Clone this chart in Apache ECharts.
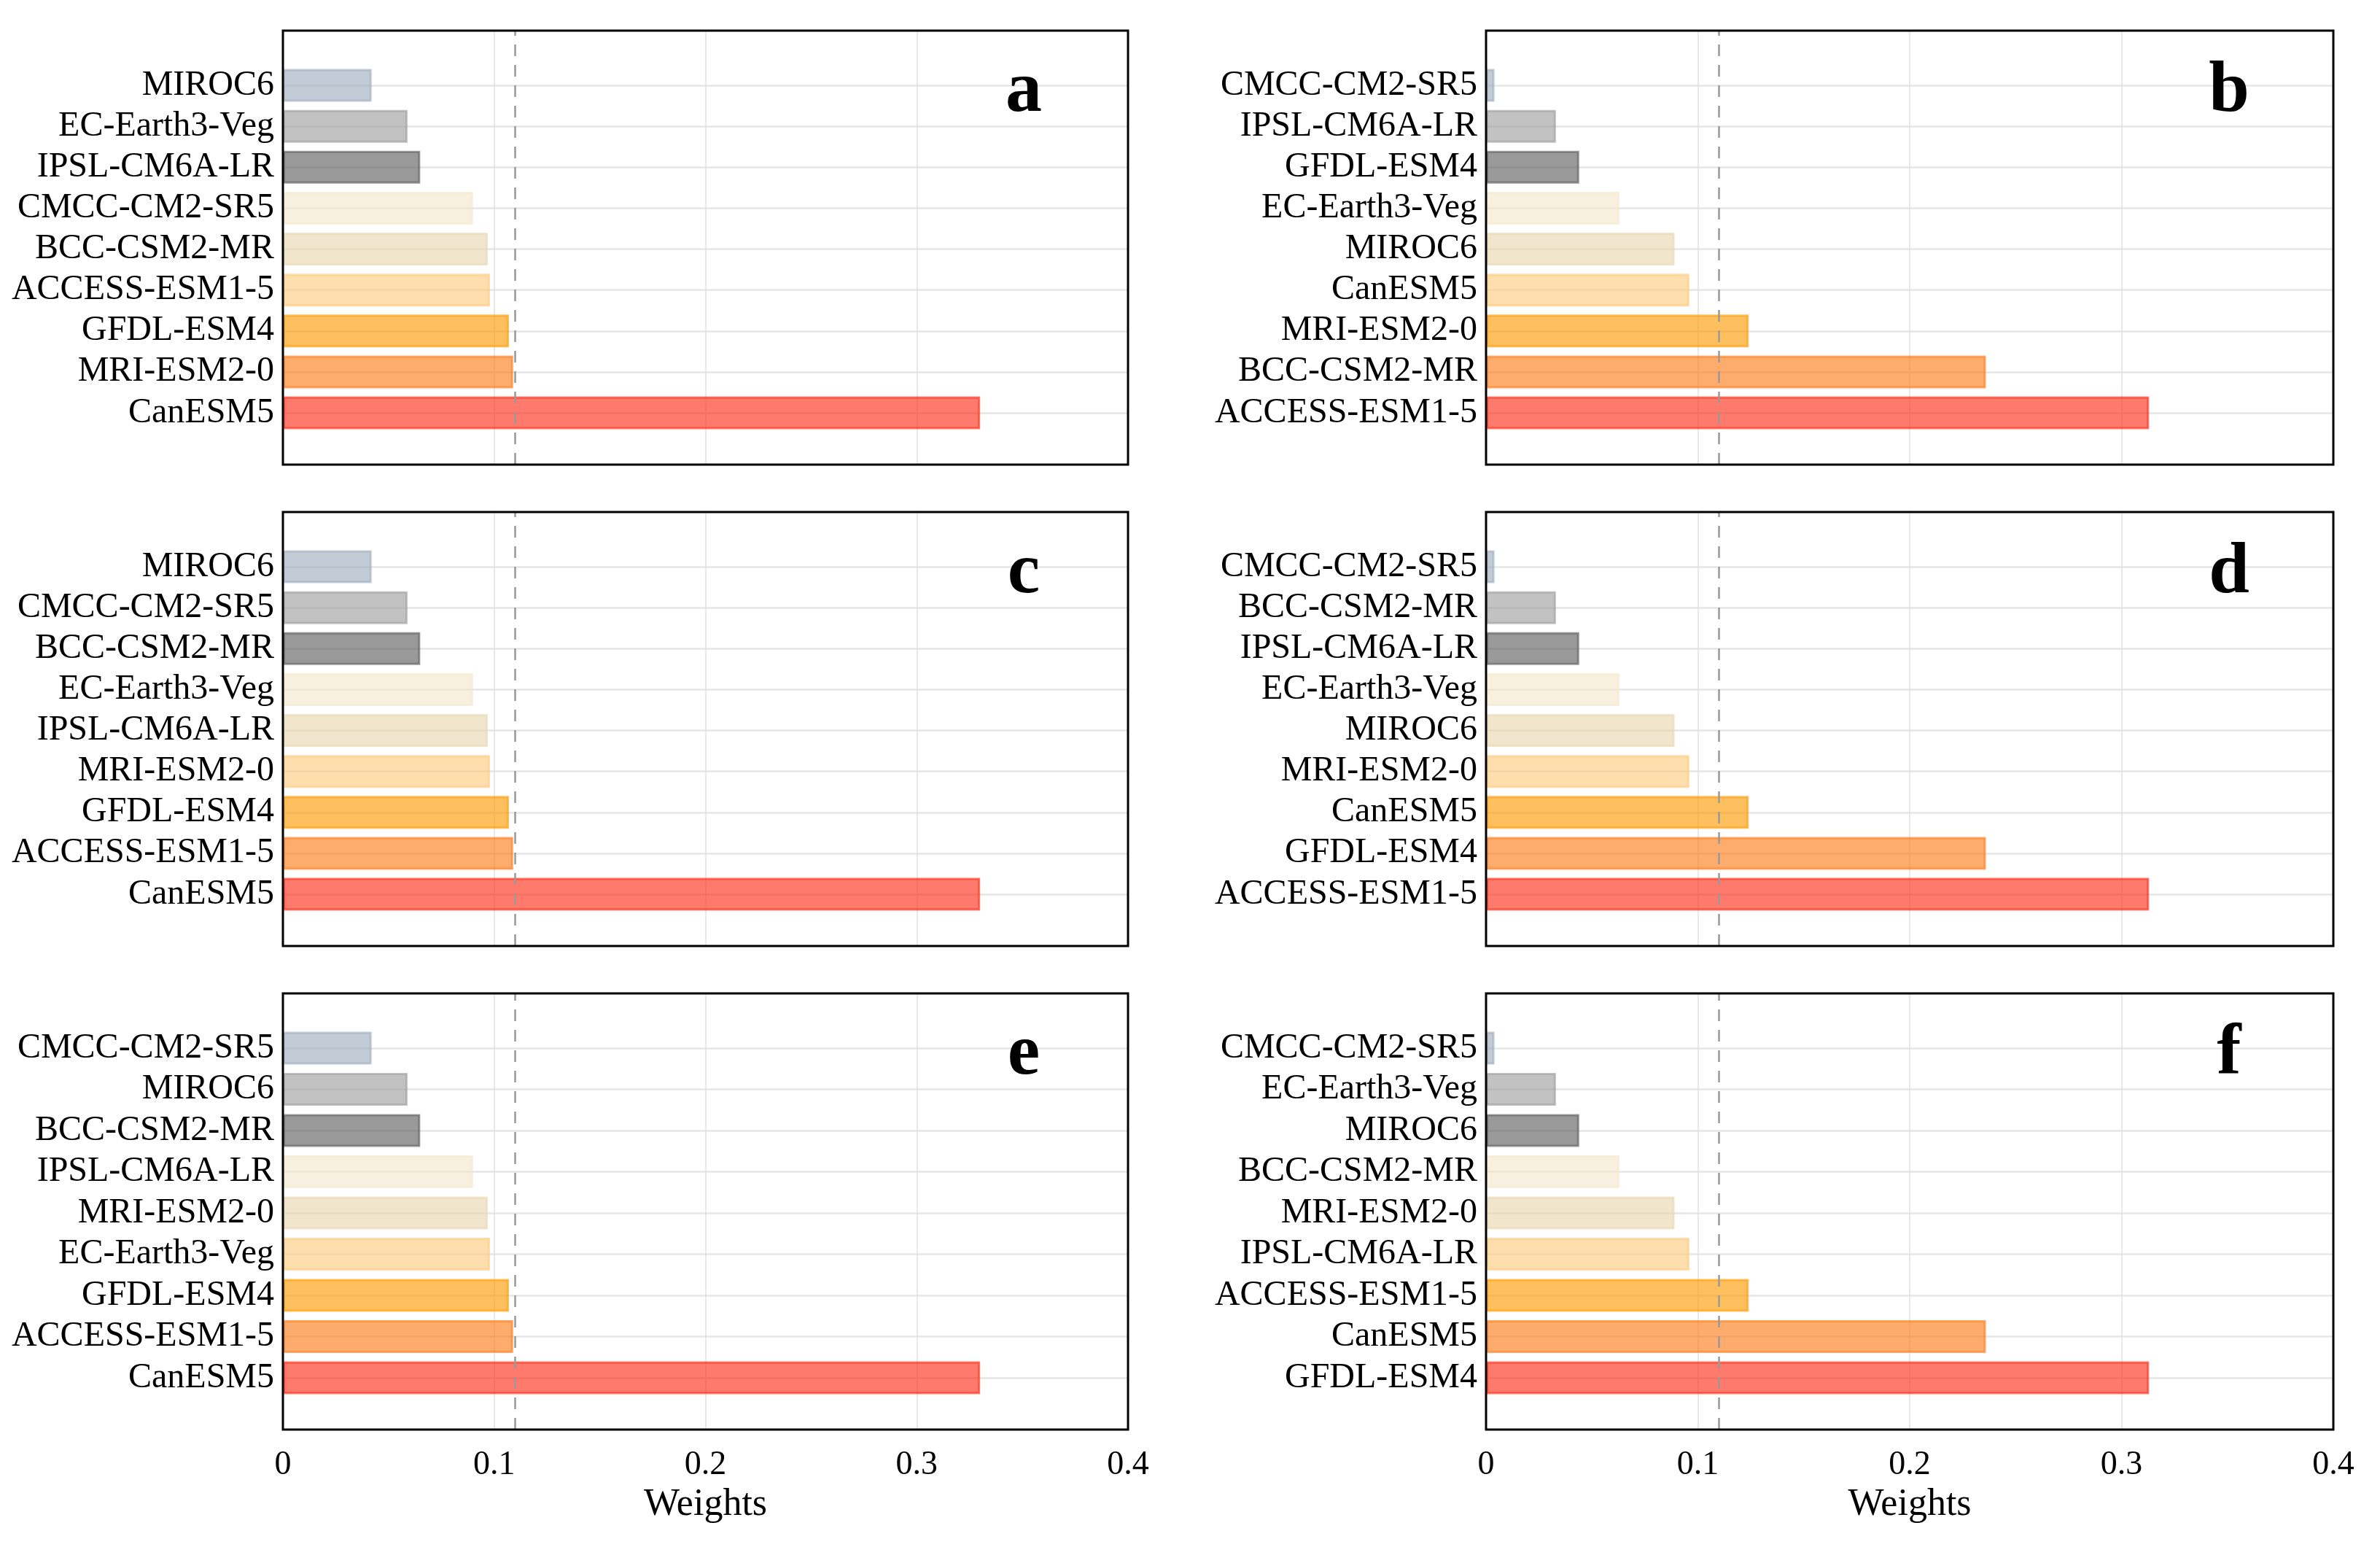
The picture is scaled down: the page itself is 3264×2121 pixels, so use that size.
<!DOCTYPE html>
<html>
<head>
<meta charset="utf-8">
<title>Model weights</title>
<script src="https://cdn.jsdelivr.net/npm/echarts@6.0.0/dist/echarts.min.js"></script>
<style>
  html, body { margin: 0; padding: 0; background: #fff; }
  #chart { width: 3264px; height: 2121px; }
</style>
</head>
<body>
<div id="chart"></div>
<script>
// model names, listed top to bottom as in each panel
var modelsA = ['MIROC6', 'EC-Earth3-Veg', 'IPSL-CM6A-LR', 'CMCC-CM2-SR5', 'BCC-CSM2-MR', 'ACCESS-ESM1-5', 'GFDL-ESM4', 'MRI-ESM2-0', 'CanESM5'];
var modelsB = ['CMCC-CM2-SR5', 'IPSL-CM6A-LR', 'GFDL-ESM4', 'EC-Earth3-Veg', 'MIROC6', 'CanESM5', 'MRI-ESM2-0', 'BCC-CSM2-MR', 'ACCESS-ESM1-5'];
var modelsC = ['MIROC6', 'CMCC-CM2-SR5', 'BCC-CSM2-MR', 'EC-Earth3-Veg', 'IPSL-CM6A-LR', 'MRI-ESM2-0', 'GFDL-ESM4', 'ACCESS-ESM1-5', 'CanESM5'];
var modelsD = ['CMCC-CM2-SR5', 'BCC-CSM2-MR', 'IPSL-CM6A-LR', 'EC-Earth3-Veg', 'MIROC6', 'MRI-ESM2-0', 'CanESM5', 'GFDL-ESM4', 'ACCESS-ESM1-5'];
var modelsE = ['CMCC-CM2-SR5', 'MIROC6', 'BCC-CSM2-MR', 'IPSL-CM6A-LR', 'MRI-ESM2-0', 'EC-Earth3-Veg', 'GFDL-ESM4', 'ACCESS-ESM1-5', 'CanESM5'];
var modelsF = ['CMCC-CM2-SR5', 'EC-Earth3-Veg', 'MIROC6', 'BCC-CSM2-MR', 'MRI-ESM2-0', 'IPSL-CM6A-LR', 'ACCESS-ESM1-5', 'CanESM5', 'GFDL-ESM4'];

// weights, same order as the names above
var weightsA = [0.042, 0.059, 0.065, 0.090, 0.097, 0.098, 0.107, 0.109, 0.330];
var weightsB = [0.004, 0.033, 0.044, 0.063, 0.089, 0.096, 0.124, 0.236, 0.313];
var weightsC = [0.042, 0.059, 0.065, 0.090, 0.097, 0.098, 0.107, 0.109, 0.330];
var weightsD = [0.004, 0.033, 0.044, 0.063, 0.089, 0.096, 0.124, 0.236, 0.313];
var weightsE = [0.042, 0.059, 0.065, 0.090, 0.097, 0.098, 0.107, 0.109, 0.330];
var weightsF = [0.004, 0.033, 0.044, 0.063, 0.089, 0.096, 0.124, 0.236, 0.313];

var equalWeight = 0.111;
var xTicks = [0, 0.1, 0.2, 0.3, 0.4];
var panelLetters = ['a', 'b', 'c', 'd', 'e', 'f'];

// bar colours by rank (top bar first)
var barColors = ['#a3b0c0', '#a1a1a1', '#626262', '#f4e8cc', '#ead8b2', '#fdcc7f', '#fd9e09', '#fd7f20', '#fd321d'];

var panels = [
    { models: modelsA, weights: weightsA },
    { models: modelsB, weights: weightsB },
    { models: modelsC, weights: weightsC },
    { models: modelsD, weights: weightsD },
    { models: modelsE, weights: weightsE },
    { models: modelsF, weights: weightsF }
];

var FONT = '"Liberation Serif", "Times New Roman", serif';
var colLeft = [388, 2038];
var colWidth = [1159, 1162];
var rowTop = [42, 702, 1362];
var rowHeight = [595, 595, 598];

var grid = [], xAxis = [], yAxis = [], series = [], graphic = [];

panels.forEach(function (p, i) {
    var col = i % 2, row = Math.floor(i / 2);
    var left = colLeft[col], top = rowTop[row];
    var width = colWidth[col], height = rowHeight[row];
    var bottomRow = row === 2;

    // frame grid: border, vertical grid lines, dashed equal-weight line
    grid.push({
        left: left, top: top, width: width, height: height,
        show: true, borderColor: '#000', borderWidth: 3,
        backgroundColor: 'transparent', z: 10,
        containLabel: false, outerBoundsMode: 'none'
    });
    // bar grid: inset so the first/last bars sit away from the frame
    grid.push({
        left: left, top: top + 75, width: width, height: height - 146,
        containLabel: false, outerBoundsMode: 'none'
    });

    xAxis.push({
        gridIndex: 2 * i, type: 'value',
        min: xTicks[0], max: xTicks[xTicks.length - 1], interval: 0.1,
        axisLine: { show: false },
        axisTick: { show: false },
        splitLine: { show: true, lineStyle: { color: '#e0e0e0', width: 1.5 } },
        axisLabel: { show: bottomRow, fontFamily: FONT, fontSize: 46, color: '#000', margin: 26 },
        name: bottomRow ? 'Weights' : '',
        nameLocation: 'middle', nameGap: 77,
        nameTextStyle: { fontFamily: FONT, fontSize: 52, color: '#000' }
    });
    yAxis.push({ gridIndex: 2 * i, type: 'value', min: 0, max: 1, show: false });

    xAxis.push({ gridIndex: 2 * i + 1, type: 'value', min: 0, max: 0.4, show: false });
    yAxis.push({
        gridIndex: 2 * i + 1, type: 'category', inverse: true, boundaryGap: false,
        data: p.models,
        axisLine: { show: false },
        axisTick: { show: false },
        axisLabel: { interval: 0, fontFamily: FONT, fontSize: 48, color: '#000', margin: 12 },
        splitLine: { show: true, interval: 0, lineStyle: { color: '#e6e6e6', width: 2.5 } }
    });

    series.push({
        type: 'line', xAxisIndex: 2 * i, yAxisIndex: 2 * i, data: [],
        silent: true,
        markLine: {
            silent: true, symbol: 'none', animation: false,
            label: { show: false },
            lineStyle: { color: '#999999', width: 2.5, type: [16, 12] },
            data: [{ xAxis: equalWeight }]
        }
    });
    series.push({
        type: 'bar', xAxisIndex: 2 * i + 1, yAxisIndex: 2 * i + 1,
        barWidth: 45, clip: false, animation: false,
        itemStyle: { borderWidth: 3, opacity: 0.65 },
        data: p.weights.map(function (w, k) {
            return { value: w, itemStyle: { color: barColors[k], borderColor: barColors[k] } };
        })
    });

    graphic.push({
        type: 'text', x: left + width - 143, y: top + 84, z: 20,
        style: {
            text: panelLetters[i], font: 'bold 100px ' + FONT, fill: '#000',
            align: 'center', verticalAlign: 'middle'
        }
    });
});

var chart = echarts.init(document.getElementById('chart'));
chart.setOption({
    backgroundColor: '#fff',
    animation: false,
    grid: grid,
    xAxis: xAxis,
    yAxis: yAxis,
    series: series,
    graphic: graphic
});
</script>
</body>
</html>
